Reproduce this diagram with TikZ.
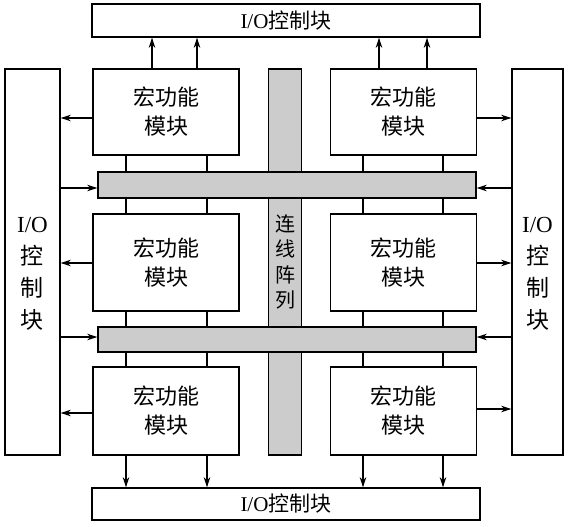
\documentclass[tikz,border=0pt]{standalone}
\usepackage{fontspec}
\setmainfont{Liberation Serif}
\newfontfamily\cjk{Noto Sans CJK SC}
\usetikzlibrary{arrows.meta}

\newcommand{\iotext}{\raisebox{-12pt}[\height][\depth]{\begin{tabular}{@{}c@{}}I/O\\{\cjk 控}\\{\cjk 制}\\{\cjk 块}\end{tabular}}}

\begin{document}
\begin{tikzpicture}[x=1pt, y=-1pt,
    block/.style={rectangle, draw, line width=1.4pt, fill=white, minimum width=146pt, align=center, inner sep=0pt, font=\fontsize{22}{29}\selectfont\cjk},
    iobox/.style={rectangle, draw, line width=1.4pt, fill=white, align=center, inner sep=0pt},
    bus/.style={rectangle, draw, line width=1.4pt, fill=gray!40, inner sep=0pt},
    link/.style={line width=1.4pt},
    arrow/.style={-{Stealth[length=10pt, width=6.5pt, inset=3pt]}, line width=1.1pt}
]
\useasboundingbox (0,0) rectangle (568,527);

% I/O control blocks
\node[iobox, minimum width=388pt, minimum height=33pt, font=\fontsize{21}{24}\selectfont] (ioT) at (286,20.5) {I/O{\cjk 控制块}};
\node[iobox, minimum width=388pt, minimum height=32pt, font=\fontsize{21}{24}\selectfont] (ioB) at (286,504) {I/O{\cjk 控制块}};
\node[iobox, minimum width=55pt, minimum height=386pt, font=\fontsize{23}{32}\selectfont] (ioL) at (32.5,262) {\iotext};
\node[iobox, minimum width=51pt, minimum height=386pt, font=\fontsize{23}{32}\selectfont] (ioR) at (537.5,262) {\iotext};

% routing
\node[bus, minimum width=33pt, minimum height=386pt, align=center, font=\fontsize{20}{25.5}\selectfont\cjk] (vbar) at (285,262) {连\\线\\阵\\列};
\node[bus, minimum width=378pt, minimum height=26pt] (bar1) at (287,185) {};
\node[bus, minimum width=378pt, minimum height=25pt] (bar2) at (287,339.5) {};

% macro blocks
\node[block, minimum height=86pt] (m11) at (166,112) {宏功能\\模块};
\node[block, minimum height=86pt] (m12) at (403.5,112) {宏功能\\模块};
\node[block, minimum height=97pt] (m21) at (166,262.5) {宏功能\\模块};
\node[block, minimum height=97pt] (m22) at (403.5,262.5) {宏功能\\模块};
\node[block, minimum height=88pt] (m31) at (166,411) {宏功能\\模块};
\node[block, minimum height=88pt] (m32) at (403.5,411) {宏功能\\模块};

\coordinate (xa) at (126,0);
\coordinate (xb) at (207,0);
\coordinate (xc) at (363,0);
\coordinate (xd) at (443,0);
\coordinate (xe) at (152,0);
\coordinate (xf) at (197,0);
\coordinate (xg) at (379,0);
\coordinate (xh) at (427,0);
\coordinate (r1) at (0,118);
\coordinate (r2) at (0,188);
\coordinate (r3) at (0,263);
\coordinate (r4) at (0,337);
\coordinate (r5) at (0,413);
\coordinate (r6) at (0,409);

% block to bus links
\foreach \x in {xa,xb} {
    \draw[link] (m11.south -| \x) -- (bar1.north -| \x);
    \draw[link] (bar1.south -| \x) -- (m21.north -| \x);
    \draw[link] (m21.south -| \x) -- (bar2.north -| \x);
    \draw[link] (bar2.south -| \x) -- (m31.north -| \x);
    \draw[arrow] (m31.south -| \x) -- (ioB.north -| \x);
}
\foreach \x in {xc,xd} {
    \draw[link] (m12.south -| \x) -- (bar1.north -| \x);
    \draw[link] (bar1.south -| \x) -- (m22.north -| \x);
    \draw[link] (m22.south -| \x) -- (bar2.north -| \x);
    \draw[link] (bar2.south -| \x) -- (m32.north -| \x);
    \draw[arrow] (m32.south -| \x) -- (ioB.north -| \x);
}
\foreach \x in {xe,xf} \draw[arrow] (m11.north -| \x) -- (ioT.south -| \x);
\foreach \x in {xg,xh} \draw[arrow] (m12.north -| \x) -- (ioT.south -| \x);

% side arrows
\draw[arrow] (m11.west |- r1) -- (ioL.east |- r1);
\draw[arrow] (ioL.east |- r2) -- (bar1.west |- r2);
\draw[arrow] (m21.west |- r3) -- (ioL.east |- r3);
\draw[arrow] (ioL.east |- r4) -- (bar2.west |- r4);
\draw[arrow] (m31.west |- r5) -- (ioL.east |- r5);

\draw[arrow] (m12.east |- r1) -- (ioR.west |- r1);
\draw[arrow] (ioR.west |- r2) -- (bar1.east |- r2);
\draw[arrow] (m22.east |- r3) -- (ioR.west |- r3);
\draw[arrow] (ioR.west |- r4) -- (bar2.east |- r4);
\draw[arrow] (m32.east |- r6) -- (ioR.west |- r6);
\end{tikzpicture}
\end{document}
